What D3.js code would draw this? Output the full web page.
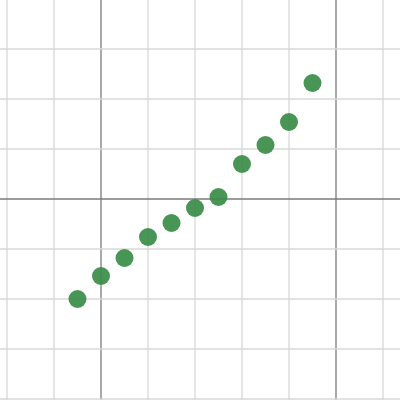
<!DOCTYPE html>
<html>
<head>
<meta charset="utf-8">
<script src="https://cdn.jsdelivr.net/npm/d3@7"></script>
<style>
  body { margin: 0; background: #fff; }
</style>
</head>
<body>
<div id="chart"></div>
<script>
// Data points
var xValues = [-0.5, 0, 0.5, 1, 1.5, 2, 2.5, 3, 3.5, 4, 4.5];
var yValues = [-2.0, -1.54, -1.18, -0.76, -0.48, -0.18, 0.04, 0.7, 1.08, 1.54, 2.32];
var xGrid = [-2, -1, 0, 1, 2, 3, 4, 5, 6];
var yGrid = [-4, -3, -2, -1, 0, 1, 2, 3];
var xDark = [0, 5];
var yDark = [0];

var width = 400, height = 400;

var xScale = d3.scaleLinear().domain([-101 / 47, (400 - 101) / 47]).range([0, width]);
var yScale = d3.scaleLinear().domain([-201 / 50, 199 / 50]).range([height, 0]);

var svg = d3.select("#chart").append("svg")
    .attr("width", width)
    .attr("height", height);

svg.selectAll(".vgrid").data(xGrid).enter().append("line")
    .attr("x1", function (d) { return xScale(d); })
    .attr("x2", function (d) { return xScale(d); })
    .attr("y1", 0).attr("y2", height)
    .attr("stroke", function (d) { return xDark.includes(d) ? "#7a7a7a" : "#d9d9d9"; })
    .attr("stroke-width", 1.3);

svg.selectAll(".hgrid").data(yGrid).enter().append("line")
    .attr("y1", function (d) { return yScale(d); })
    .attr("y2", function (d) { return yScale(d); })
    .attr("x1", 0).attr("x2", width)
    .attr("stroke", function (d) { return yDark.includes(d) ? "#7a7a7a" : "#d9d9d9"; })
    .attr("stroke-width", 1.3);

svg.selectAll(".dot").data(xValues).enter().append("circle")
    .attr("cx", function (d) { return xScale(d); })
    .attr("cy", function (d, i) { return yScale(yValues[i]); })
    .attr("r", 9)
    .attr("fill", "#388c46")
    .attr("fill-opacity", 0.92);
</script>
</body>
</html>
